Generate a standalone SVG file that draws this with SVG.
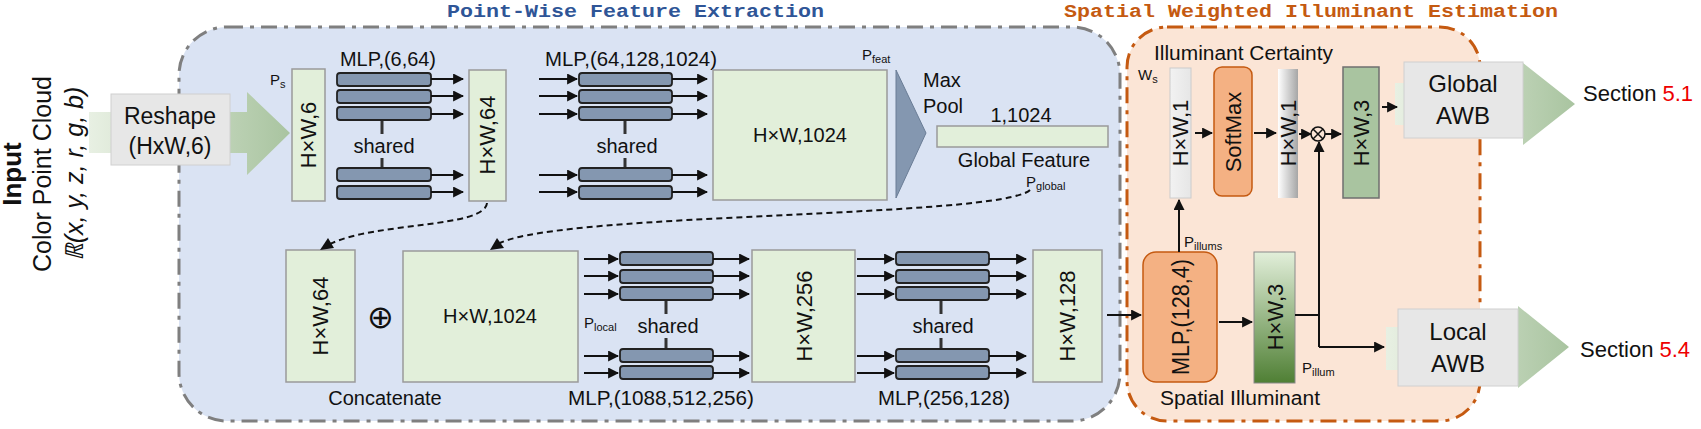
<svg xmlns="http://www.w3.org/2000/svg" width="1701" height="429" viewBox="0 0 1701 429">
<defs>
<marker id="a" viewBox="0 0 10 10" refX="9" refY="5" markerWidth="11" markerHeight="11" orient="auto" markerUnits="userSpaceOnUse"><path d="M0,0 L10,5 L0,10 z" fill="#111"/></marker>
<linearGradient id="gbody" x1="0" x2="1" y1="0" y2="0"><stop offset="0" stop-color="#e8f0e3"/><stop offset="1" stop-color="#a9c4a0"/></linearGradient>
<linearGradient id="ggray" x1="0" x2="1"><stop offset="0" stop-color="#ffffff"/><stop offset="1" stop-color="#a6a6a6"/></linearGradient>
<linearGradient id="ggray2" x1="0" x2="1"><stop offset="0" stop-color="#f2f2f2"/><stop offset="1" stop-color="#e6e6e6"/></linearGradient>
<linearGradient id="ggreen" x1="0" x2="0" y1="0" y2="1"><stop offset="0" stop-color="#e2efda"/><stop offset="1" stop-color="#4f7f34"/></linearGradient>
</defs>
<style>
text{font-family:"Liberation Sans",Arial,sans-serif;fill:#111}
.t{font-size:20px}
.r{font-size:22px}
.sub{font-size:11px}
.ttl{font-family:"Liberation Mono",monospace;font-size:19px;font-weight:bold}
.box{fill:#e2efda;stroke:#9a9a9a;stroke-width:1.5}
.bar{fill:#8497b0;stroke:#222;stroke-width:1.8}
.ar line{stroke:#111;stroke-width:2;fill:none;marker-end:url(#a)}
.sh{stroke:#333;stroke-width:3}
.dash{stroke:#111;stroke-width:2;fill:none;stroke-dasharray:6 4}
</style>
<rect x="179" y="27" width="941" height="394" rx="48" fill="#dae3f3" stroke="#7f7f7f" stroke-width="3" stroke-dasharray="16 7 4 7"/>
<rect x="1127" y="27" width="353" height="394" rx="40" fill="#fbe5d6" stroke="#c55a11" stroke-width="3" stroke-dasharray="16 7 4 7"/>
<text class="ttl" x="447" y="17" style="fill:#2f5597" textLength="377" lengthAdjust="spacingAndGlyphs">Point-Wise Feature Extraction</text>
<text class="ttl" x="1064" y="17" style="fill:#c55a11" textLength="494" lengthAdjust="spacingAndGlyphs">Spatial Weighted Illuminant Estimation</text>

<g id="input">
<text transform="translate(21,174) rotate(-90)" text-anchor="middle" font-size="26" font-weight="bold">Input</text>
<text transform="translate(51,174) rotate(-90)" text-anchor="middle" font-size="25">Color Point Cloud</text>
<text transform="translate(83,174) rotate(-90)" text-anchor="middle" font-size="25" font-family="'DejaVu Serif',serif" font-style="italic">ℝ(x, y, z, r, g, b)</text>
</g>
<g id="reshape">
<path d="M89,112 H247 V92 L290,133 L247,175 V153 H89 z" fill="url(#gbody)"/>
<rect x="111" y="94" width="119" height="71" fill="#e7e7e7" stroke="#d0d0d0"/>
<text x="170" y="124" text-anchor="middle" font-size="23">Reshape</text>
<text x="170" y="154" text-anchor="middle" font-size="23">(HxW,6)</text>
</g>
<g id="ps">
<text x="270" y="85" font-size="15">P<tspan class="sub" dy="3">s</tspan></text>
<rect class="box" x="292" y="69" width="33" height="132"/>
<text class="r" transform="translate(316,135) rotate(-90)" text-anchor="middle">H×W,6</text>
</g>
<g id="mlp1">
<text class="t" x="388" y="66" text-anchor="middle" textLength="96" lengthAdjust="spacingAndGlyphs">MLP,(6,64)</text>
<line class="sh" x1="382" y1="121" x2="382" y2="168"/>
<rect x="352" y="134" width="60" height="24" fill="#dae3f3"/>
<text class="t" x="384" y="153" text-anchor="middle">shared</text>
<rect class="bar" x="337" y="73" width="94" height="13" rx="3"/>
<rect class="bar" x="337" y="90" width="94" height="13" rx="3"/>
<rect class="bar" x="337" y="107" width="94" height="13" rx="3"/>
<rect class="bar" x="337" y="168" width="94" height="13" rx="3"/>
<rect class="bar" x="337" y="186" width="94" height="13" rx="3"/>
</g>
<g id="p64">
<rect class="box" x="469" y="70" width="37" height="131"/>
<text class="r" transform="translate(495,135) rotate(-90)" text-anchor="middle">H×W,64</text>
</g>
<g id="mlp2">
<text class="t" x="631" y="66" text-anchor="middle" textLength="172" lengthAdjust="spacingAndGlyphs">MLP,(64,128,1024)</text>
<line class="sh" x1="625" y1="121" x2="625" y2="168"/>
<rect x="595" y="134" width="60" height="24" fill="#dae3f3"/>
<text class="t" x="627" y="153" text-anchor="middle">shared</text>
<rect class="bar" x="579" y="73" width="93" height="13" rx="3"/>
<rect class="bar" x="579" y="90" width="93" height="13" rx="3"/>
<rect class="bar" x="579" y="107" width="93" height="13" rx="3"/>
<rect class="bar" x="579" y="168" width="93" height="13" rx="3"/>
<rect class="bar" x="579" y="186" width="93" height="13" rx="3"/>
</g>
<g id="pfeat">
<text x="862" y="60" font-size="15">P<tspan class="sub" dy="3">feat</tspan></text>
<rect class="box" x="713" y="70" width="174" height="130"/>
<text class="t" x="800" y="142" text-anchor="middle">H×W,1024</text>
</g>
<g id="maxpool">
<path d="M896,70 L926,133 L896,198 z" fill="#8497b0" stroke="#6a7d96"/>
<text class="t" x="923" y="87">Max</text>
<text class="t" x="923" y="113">Pool</text>
</g>
<g id="global">
<text class="t" x="1021" y="122" text-anchor="middle">1,1024</text>
<rect class="box" x="937" y="126" width="171" height="21"/>
<text class="t" x="1024" y="167" text-anchor="middle">Global Feature</text>
<text x="1026" y="187" font-size="15">P<tspan class="sub" dy="3">global</tspan></text>
</g>
<g id="c64">
<rect class="box" x="286" y="250" width="69" height="132"/>
<text class="r" transform="translate(328,316) rotate(-90)" text-anchor="middle">H×W,64</text>
<text x="380" y="328" text-anchor="middle" font-size="32" font-family="'DejaVu Sans',sans-serif">⊕</text>
<text class="t" x="385" y="405" text-anchor="middle">Concatenate</text>
</g>
<g id="c1024">
<rect class="box" x="403" y="251" width="175" height="131"/>
<text class="t" x="490" y="323" text-anchor="middle">H×W,1024</text>
</g>
<g id="mlp3">
<text x="584" y="328" font-size="15">P<tspan class="sub" dy="3">local</tspan></text>
<line class="sh" x1="666" y1="301" x2="666" y2="349"/>
<rect x="636" y="314" width="62" height="24" fill="#dae3f3"/>
<text class="t" x="668" y="333" text-anchor="middle">shared</text>
<rect class="bar" x="620" y="252" width="93" height="13" rx="3"/>
<rect class="bar" x="620" y="270" width="93" height="13" rx="3"/>
<rect class="bar" x="620" y="287" width="93" height="13" rx="3"/>
<rect class="bar" x="620" y="349" width="93" height="13" rx="3"/>
<rect class="bar" x="620" y="366" width="93" height="13" rx="3"/>
<text class="t" x="661" y="405" text-anchor="middle" textLength="186" lengthAdjust="spacingAndGlyphs">MLP,(1088,512,256)</text>
</g>
<g id="c256">
<rect class="box" x="752" y="250" width="103" height="132"/>
<text class="r" transform="translate(812,316) rotate(-90)" text-anchor="middle">H×W,256</text>
</g>
<g id="mlp4">
<line class="sh" x1="941" y1="301" x2="941" y2="349"/>
<rect x="911" y="314" width="62" height="24" fill="#dae3f3"/>
<text class="t" x="943" y="333" text-anchor="middle">shared</text>
<rect class="bar" x="896" y="252" width="93" height="13" rx="3"/>
<rect class="bar" x="896" y="270" width="93" height="13" rx="3"/>
<rect class="bar" x="896" y="287" width="93" height="13" rx="3"/>
<rect class="bar" x="896" y="349" width="93" height="13" rx="3"/>
<rect class="bar" x="896" y="366" width="93" height="13" rx="3"/>
<text class="t" x="944" y="405" text-anchor="middle" textLength="132" lengthAdjust="spacingAndGlyphs">MLP,(256,128)</text>
</g>
<g id="c128">
<rect class="box" x="1033" y="250" width="69" height="132"/>
<text class="r" transform="translate(1075,316) rotate(-90)" text-anchor="middle">H×W,128</text>
</g>
<g id="certainty">
<text class="t" x="1154" y="60" textLength="179" lengthAdjust="spacingAndGlyphs">Illuminant Certainty</text>
<text x="1138" y="80" font-size="15">W<tspan class="sub" dy="3">s</tspan></text>
<rect x="1170" y="68" width="21" height="130" fill="url(#ggray2)" stroke="#ccc"/>
<text class="r" transform="translate(1188,133) rotate(-90)" text-anchor="middle">H×W,1</text>
</g>
<g id="softmax">
<rect x="1214" y="67" width="38" height="129" rx="8" fill="#f4b183" stroke="#c55a11" stroke-width="1.5"/>
<text class="r" transform="translate(1241,132) rotate(-90)" text-anchor="middle">SoftMax</text>
</g>
<g id="w1">
<rect x="1278" y="69" width="20" height="129" fill="url(#ggray)"/>
<text class="r" transform="translate(1296,133) rotate(-90)" text-anchor="middle">H×W,1</text>
</g>
<g id="mult">
<circle cx="1318" cy="134" r="7" fill="none" stroke="#111" stroke-width="1.5"/>
<path d="M1313,129 L1323,139 M1323,129 L1313,139" stroke="#111" stroke-width="1.5"/>
</g>
<g id="w3">
<rect x="1343" y="67" width="36" height="131" fill="#a9c4a0" stroke="#6f6f6f" stroke-width="1.5"/>
<text class="r" transform="translate(1369,133) rotate(-90)" text-anchor="middle">H×W,3</text>
</g>
<g id="globalawb">
<path d="M1395,83 H1523 V63 L1575,104 L1523,145 V125 H1395 z" fill="url(#gbody)"/>
<rect x="1404" y="62" width="119" height="76" fill="#e7e7e7" stroke="#d0d0d0"/>
<text x="1463" y="92" text-anchor="middle" font-size="24">Global</text>
<text x="1463" y="124" text-anchor="middle" font-size="24">AWB</text>
<text x="1583" y="101" font-size="22">Section <tspan style="fill:#e00">5.1</tspan></text>
</g>
<g id="mlp5">
<rect x="1143" y="252" width="74" height="130" rx="13" fill="#f4b183" stroke="#c55a11" stroke-width="1.5"/>
<text transform="translate(1189,317) rotate(-90)" text-anchor="middle" font-size="23" textLength="116" lengthAdjust="spacingAndGlyphs">MLP,(128,4)</text>
<text x="1184" y="247" font-size="15">P<tspan class="sub" dy="3">illums</tspan></text>
<text class="t" x="1240" y="405" text-anchor="middle" textLength="160" lengthAdjust="spacingAndGlyphs">Spatial Illuminant</text>
</g>
<g id="illum">
<rect x="1254" y="252" width="41" height="131" fill="url(#ggreen)" stroke="#8a8a8a"/>
<text class="r" transform="translate(1283,317) rotate(-90)" text-anchor="middle">H×W,3</text>
<text x="1302" y="373" font-size="15">P<tspan class="sub" dy="3">illum</tspan></text>
</g>
<g id="localawb">
<path d="M1386,327 H1518 V306 L1569,347 L1518,388 V370 H1386 z" fill="url(#gbody)"/>
<rect x="1398" y="309" width="120" height="77" fill="#e7e7e7" stroke="#d0d0d0"/>
<text x="1458" y="340" text-anchor="middle" font-size="24">Local</text>
<text x="1458" y="372" text-anchor="middle" font-size="24">AWB</text>
<text x="1580" y="357" font-size="22">Section <tspan style="fill:#e00">5.4</tspan></text>
</g>
<g id="connectors" class="ar">
<line x1="431" y1="79" x2="463" y2="79"/><line x1="431" y1="96" x2="463" y2="96"/><line x1="431" y1="114" x2="463" y2="114"/><line x1="431" y1="175" x2="463" y2="175"/><line x1="431" y1="192" x2="463" y2="192"/>
<line x1="539" y1="79" x2="577" y2="79"/><line x1="539" y1="96" x2="577" y2="96"/><line x1="539" y1="114" x2="577" y2="114"/><line x1="539" y1="175" x2="577" y2="175"/><line x1="539" y1="192" x2="577" y2="192"/>
<line x1="672" y1="79" x2="707" y2="79"/><line x1="672" y1="96" x2="707" y2="96"/><line x1="672" y1="114" x2="707" y2="114"/><line x1="672" y1="175" x2="707" y2="175"/><line x1="672" y1="192" x2="707" y2="192"/>
<line x1="584" y1="259" x2="618" y2="259"/><line x1="584" y1="276" x2="618" y2="276"/><line x1="584" y1="294" x2="618" y2="294"/><line x1="584" y1="356" x2="618" y2="356"/><line x1="584" y1="373" x2="618" y2="373"/>
<line x1="713" y1="259" x2="749" y2="259"/><line x1="713" y1="276" x2="749" y2="276"/><line x1="713" y1="294" x2="749" y2="294"/><line x1="713" y1="356" x2="749" y2="356"/><line x1="713" y1="373" x2="749" y2="373"/>
<line x1="857" y1="259" x2="894" y2="259"/><line x1="857" y1="276" x2="894" y2="276"/><line x1="857" y1="294" x2="894" y2="294"/><line x1="857" y1="356" x2="894" y2="356"/><line x1="857" y1="373" x2="894" y2="373"/>
<line x1="989" y1="259" x2="1026" y2="259"/><line x1="989" y1="276" x2="1026" y2="276"/><line x1="989" y1="294" x2="1026" y2="294"/><line x1="989" y1="356" x2="1026" y2="356"/><line x1="989" y1="373" x2="1026" y2="373"/>
<line x1="1107" y1="315" x2="1141" y2="315"/>
<line x1="1219" y1="322" x2="1252" y2="322"/>
<line x1="1179" y1="252" x2="1179" y2="200"/>
<line x1="1195" y1="133" x2="1212" y2="133"/>
<line x1="1254" y1="133" x2="1276" y2="133"/>
<line x1="1299" y1="134" x2="1311" y2="134"/>
<line x1="1325" y1="134" x2="1341" y2="134"/>
<line x1="1382" y1="107" x2="1397" y2="107"/>
<line x1="1295" y1="315" x2="1319" y2="315" style="marker-end:none"/>
<line x1="1319" y1="347" x2="1319" y2="142"/>
<line x1="1319" y1="347" x2="1384" y2="347"/>
<path class="dash" d="M487,203 C485,228 375,222 330,244"/>
<path d="M320,250 L328,238 L334,248 z" fill="#111"/>
<path class="dash" d="M1030,190 C1000,218 565,212 500,243"/>
<path d="M490,250 L497,238 L504,248 z" fill="#111"/>
</g>
</svg>
